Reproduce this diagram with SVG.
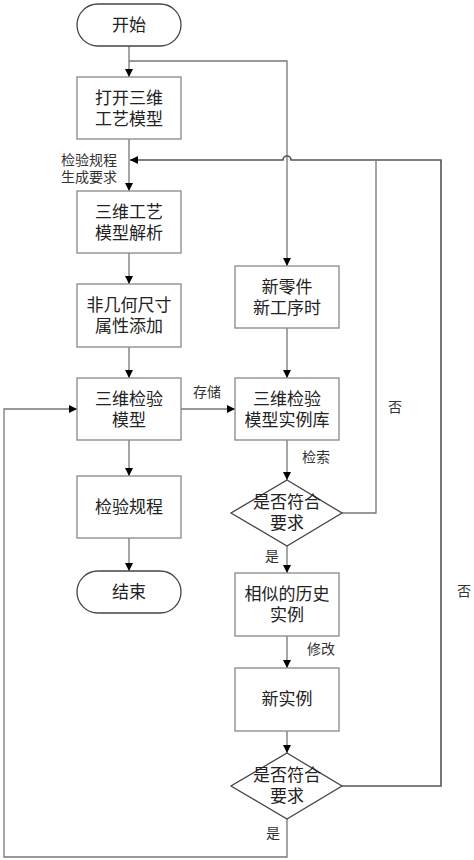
<svg xmlns="http://www.w3.org/2000/svg" width="474" height="860" viewBox="0 0 474 860">
<defs>
<marker id="ah" viewBox="0 0 10 10" refX="10" refY="5" markerWidth="8" markerHeight="8" markerUnits="userSpaceOnUse" orient="auto">
<path d="M0,0 L10,5 L0,10 Z" fill="#000"/>
</marker>
</defs>
<style>
.box{fill:#fff;stroke:#888;stroke-width:1.3}
.t{font-family:"Liberation Serif","Noto Sans CJK SC",serif;font-size:17px;fill:#222;text-anchor:middle;dominant-baseline:central}
.l{font-family:"Liberation Serif","Noto Sans CJK SC",serif;font-size:14px;fill:#333;text-anchor:middle;dominant-baseline:central}
.c{fill:none;stroke:#777;stroke-width:1.3}
.cd{fill:none;stroke:#555;stroke-width:1.6}
</style>
<rect width="474" height="860" fill="#fff"/>
<g id="connectors">
<path class="c" d="M129,46 V77" marker-end="url(#ah)"/>
<path class="c" d="M129,61 H287 V266" marker-end="url(#ah)"/>
<path class="c" d="M129,139 V191" marker-end="url(#ah)"/>
<path class="cd" d="M342,786 H441 V160 H291 A4,4 0 0 0 283,160 H130" marker-end="url(#ah)"/>
<path class="c" d="M342,513 H376 V160"/>
<path class="c" d="M129,253 V284" marker-end="url(#ah)"/>
<path class="c" d="M129,347 V378" marker-end="url(#ah)"/>
<path class="c" d="M129,440 V476" marker-end="url(#ah)"/>
<path class="c" d="M129,538 V571" marker-end="url(#ah)"/>
<path class="c" d="M287,328 V378" marker-end="url(#ah)"/>
<path class="c" d="M181,409 H235" marker-end="url(#ah)"/>
<path class="c" d="M287,440 V480" marker-end="url(#ah)"/>
<path class="c" d="M287,546 V573" marker-end="url(#ah)"/>
<path class="c" d="M287,636 V668" marker-end="url(#ah)"/>
<path class="c" d="M287,731 V753" marker-end="url(#ah)"/>
<path class="c" d="M287,819 V857 H4 V409 H77" marker-end="url(#ah)"/>
<text class="l" x="89" y="160">检验规程</text>
<text class="l" x="89" y="177">生成要求</text>
<text class="l" x="207" y="392">存储</text>
<text class="l" x="316" y="457">检索</text>
<text class="l" x="395" y="407">否</text>
<text class="l" x="272" y="556">是</text>
<text class="l" x="321" y="649">修改</text>
<text class="l" x="464" y="591">否</text>
<text class="l" x="273" y="833">是</text>
</g>
<g id="start"><rect class="box" x="77" y="4" width="104" height="42" rx="21" ry="21" style="stroke:#444"/><text class="t" x="129" y="25">开始</text></g>
<g id="open"><rect class="box" x="77" y="77" width="104" height="62"/><text class="t" x="129" y="98">打开三维</text><text class="t" x="129" y="119">工艺模型</text></g>
<g id="parse"><rect class="box" x="77" y="191" width="104" height="62"/><text class="t" x="129" y="212">三维工艺</text><text class="t" x="129" y="233">模型解析</text></g>
<g id="attr"><rect class="box" x="77" y="284" width="104" height="63"/><text class="t" x="129" y="305">非几何尺寸</text><text class="t" x="129" y="326">属性添加</text></g>
<g id="model"><rect class="box" x="77" y="378" width="104" height="62"/><text class="t" x="129" y="399">三维检验</text><text class="t" x="129" y="420">模型</text></g>
<g id="rules"><rect class="box" x="77" y="476" width="104" height="62"/><text class="t" x="129" y="507">检验规程</text></g>
<g id="end"><rect class="box" x="77" y="571" width="104" height="42" rx="21" ry="21" style="stroke:#444"/><text class="t" x="129" y="592">结束</text></g>
<g id="newpart"><rect class="box" x="235" y="266" width="104" height="62"/><text class="t" x="287" y="287">新零件</text><text class="t" x="287" y="308">新工序时</text></g>
<g id="library"><rect class="box" x="235" y="378" width="104" height="62"/><text class="t" x="287" y="399">三维检验</text><text class="t" x="287" y="420">模型实例库</text></g>
<g id="check1"><path class="box" d="M287,480 L342,513 L287,546 L231,513 Z" style="stroke:#444"/><text class="t" x="287" y="502">是否符合</text><text class="t" x="287" y="523">要求</text></g>
<g id="similar"><rect class="box" x="235" y="573" width="104" height="63"/><text class="t" x="287" y="594">相似的历史</text><text class="t" x="287" y="615">实例</text></g>
<g id="newinst"><rect class="box" x="235" y="668" width="104" height="63"/><text class="t" x="287" y="699">新实例</text></g>
<g id="check2"><path class="box" d="M287,753 L342,786 L287,819 L231,786 Z" style="stroke:#444"/><text class="t" x="287" y="775">是否符合</text><text class="t" x="287" y="796">要求</text></g>
</svg>
